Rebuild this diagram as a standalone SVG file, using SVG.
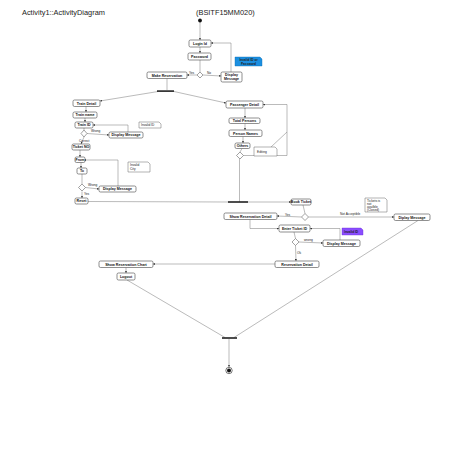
<svg xmlns="http://www.w3.org/2000/svg" width="453" height="453" viewBox="0 0 453 453">
<defs>
<marker id="ah" viewBox="0 0 6 6" refX="6" refY="3" markerWidth="4" markerHeight="4" orient="auto"><path d="M0,0 L6,3 L0,6 Z" fill="#333"/></marker>
<style>
.box{fill:#fff;stroke:#444;stroke-width:0.6}
.t{font-family:"Liberation Sans",Arial,sans-serif;font-size:3.6px;font-weight:bold;text-anchor:middle;fill:#111}
.lbl{font-family:"Liberation Sans",Arial,sans-serif;font-size:3.2px;fill:#222}
.nt{font-family:"Liberation Sans",Arial,sans-serif;font-size:3.2px;fill:#222}
.c{stroke:#777;stroke-width:0.5;fill:none}
.ca{stroke:#777;stroke-width:0.5;fill:none;marker-end:url(#ah)}
.note{fill:#fff;stroke:#666;stroke-width:0.5}
.bar{fill:#222}
.dia{fill:#fff;stroke:#444;stroke-width:0.5}
</style>
</defs>
<rect width="453" height="453" fill="#fff"/>
<text x="22" y="15" font-family="Liberation Sans,Arial,sans-serif" font-size="7.4" fill="#222">Activity1::ActivityDiagram</text>
<text x="196" y="15" font-family="Liberation Sans,Arial,sans-serif" font-size="7.4" fill="#222">(BSITF15MM020)</text>

<g id="connectors">
<line class="ca" x1="200" y1="22" x2="200" y2="40"/>
<line class="ca" x1="200" y1="47" x2="200" y2="53"/>
<line class="c" x1="200" y1="60" x2="200" y2="72"/>
<line class="ca" x1="197" y1="75" x2="187" y2="75"/>
<line class="ca" x1="203" y1="75" x2="221" y2="76"/>
<polyline class="ca" points="231,72 231,43 211,43"/>
<line class="c" x1="167" y1="78.5" x2="167" y2="90"/>
<line class="ca" x1="158" y1="91.5" x2="100" y2="101"/>
<line class="ca" x1="174" y1="91.5" x2="226" y2="103"/>
<line class="ca" x1="86" y1="106" x2="86" y2="112"/>
<line class="ca" x1="85" y1="118" x2="85" y2="122"/>
<line class="c" x1="84" y1="128" x2="84" y2="130"/>
<line class="ca" x1="87" y1="133.5" x2="109" y2="135"/>
<polyline class="ca" points="128,132 128,125 93,125"/>
<line class="ca" x1="84" y1="137" x2="81" y2="144"/>
<line class="ca" x1="80" y1="150" x2="80" y2="157"/>
<line class="ca" x1="81" y1="162.5" x2="81" y2="168"/>
<line class="c" x1="82" y1="174" x2="82" y2="184"/>
<line class="ca" x1="85.5" y1="187.5" x2="99" y2="189"/>
<polyline class="ca" points="118,186 118,160 84,160"/>
<line class="ca" x1="82" y1="191.5" x2="82" y2="198"/>
<line class="c" x1="88" y1="201.5" x2="228" y2="202"/>
<line class="ca" x1="245" y1="108" x2="245" y2="118"/>
<line class="ca" x1="245" y1="123.5" x2="245" y2="130"/>
<line class="ca" x1="243" y1="136.5" x2="243" y2="143"/>
<line class="c" x1="242" y1="148.5" x2="240" y2="152"/>
<polyline class="ca" points="243.5,155.5 287,155.5 287,104.5 263,104.5"/>
<line class="c" x1="271" y1="147" x2="287" y2="132"/>
<line class="c" x1="239.5" y1="159" x2="239.5" y2="202"/>
<line class="ca" x1="248" y1="202" x2="291" y2="202"/>
<line class="c" x1="303" y1="205" x2="305" y2="213.5"/>
<line class="ca" x1="301.5" y1="217" x2="277" y2="216"/>
<line class="ca" x1="308.5" y1="217" x2="394" y2="217"/>
<polyline class="ca" points="250,219.5 250,228.5 279,228.5"/>
<polyline class="ca" points="340,240 340,228.5 310,228.5"/>
<line class="c" x1="294" y1="232" x2="295.5" y2="238.5"/>
<line class="ca" x1="299" y1="242" x2="323" y2="243"/>
<line class="ca" x1="295.5" y1="245.5" x2="296" y2="261"/>
<line class="ca" x1="275" y1="264" x2="153" y2="264"/>
<line class="ca" x1="126" y1="267.5" x2="126" y2="273"/>
<line class="c" x1="127" y1="280" x2="225" y2="337.5"/>
<line class="c" x1="418" y1="220.5" x2="234" y2="337.5"/>
<line class="ca" x1="229" y1="339" x2="229" y2="367"/>
</g>

<g id="start"><circle cx="200" cy="20.5" r="1.9" fill="#111"/></g>
<g id="login"><rect class="box" x="189" y="40" width="22" height="7" rx="1.5"/><text class="t" x="200" y="44.8">Login Id</text></g>
<g id="password"><rect class="box" x="188" y="53" width="23" height="7" rx="1.5"/><text class="t" x="199.5" y="57.8">Password</text></g>
<g id="d1"><path class="dia" d="M200,72 L203,75 L200,78 L197,75 Z"/><text class="lbl" x="189" y="73.5">Yes</text><text class="lbl" x="207" y="73.5">No</text></g>
<g id="invalid1"><path d="M235,57 H260 L262,59 V66 H235 Z" fill="#1b8fe0" stroke="#0d6bb0" stroke-width="0.4"/><text class="nt" x="248.5" y="61" text-anchor="middle" font-weight="bold" fill="#fff">Invalid ID or</text><text class="nt" x="248.5" y="64.6" text-anchor="middle" font-weight="bold" fill="#fff">Password</text></g>
<g id="dispmsg1"><rect class="box" x="221" y="72" width="21" height="10" rx="1.5"/><text class="t" x="231.5" y="76">Display</text><text class="t" x="231.5" y="80">Message</text></g>
<g id="makeres"><rect class="box" x="147" y="72" width="40" height="6.5" rx="1.5"/><text class="t" x="167" y="76.6">Make Reservation</text></g>
<g id="fork1"><rect class="bar" x="157" y="90.3" width="17" height="1.6"/></g>
<g id="traindetail"><rect class="box" x="73" y="100" width="27" height="6.5" rx="1.5"/><text class="t" x="86.5" y="104.6">Train Detail</text></g>
<g id="trainname"><rect class="box" x="73" y="112" width="24" height="6" rx="1.5"/><text class="t" x="85" y="116.3">Train name</text></g>
<g id="trainid"><rect class="box" x="75" y="122" width="18" height="6" rx="1.5"/><text class="t" x="84" y="126.3">Train ID</text></g>
<g id="invalidid"><path class="note" d="M139,122 H159 L161,124 V128 H139 Z"/><text class="nt" x="141" y="126.3">Invalid ID</text></g>
<g id="d2"><path class="dia" d="M84,130 L87,133.5 L84,137 L81,133.5 Z"/><text class="lbl" x="91" y="132.3">Wrong</text><text class="lbl" x="79" y="142.3">Correct</text></g>
<g id="dispmsg2"><rect class="box" x="109" y="132" width="34" height="6" rx="1.5"/><text class="t" x="126" y="136.3">Display Message</text></g>
<g id="ticketno"><rect class="box" x="72" y="144" width="18" height="6" rx="1.5"/><text class="t" x="81" y="148.3">Ticket NO</text></g>
<g id="from"><rect class="box" x="75" y="157" width="10" height="5.5" rx="1.5"/><text class="t" x="80" y="161">From</text></g>
<g id="to"><rect class="box" x="77" y="168" width="10" height="6" rx="1.5"/><text class="t" x="82" y="172.3">To</text></g>
<g id="invalidcity"><path class="note" d="M128,162 H148 L150,164 V172 H128 Z"/><text class="nt" x="130" y="166">Invalid</text><text class="nt" x="130" y="170">City</text></g>
<g id="d3"><path class="dia" d="M82,184 L85.5,187.5 L82,191 L78.5,187.5 Z"/><text class="lbl" x="88" y="186.3">Wrong</text><text class="lbl" x="84" y="194.5">Yes</text></g>
<g id="dispmsg3"><rect class="box" x="99" y="186" width="37" height="6" rx="1.5"/><text class="t" x="117.5" y="190.3">Display Message</text></g>
<g id="reset"><rect class="box" x="75" y="198" width="13" height="6" rx="1.5"/><text class="t" x="81.5" y="202.3">Reset</text></g>
<g id="passdetail"><rect class="box" x="226" y="101" width="37" height="7" rx="1.5"/><text class="t" x="244.5" y="105.8">Passenger Detail</text></g>
<g id="totalpersons"><rect class="box" x="229" y="118" width="31" height="5.5" rx="1.5"/><text class="t" x="244.5" y="122">Total Persons</text></g>
<g id="personnames"><rect class="box" x="229" y="130" width="33" height="6.5" rx="1.5"/><text class="t" x="245.5" y="134.6">Person Names</text></g>
<g id="others"><rect class="box" x="235" y="143" width="15" height="5.5" rx="1.5"/><text class="t" x="242.5" y="147">Others</text></g>
<g id="d4"><path class="dia" d="M240,152 L243.5,155.5 L240,159 L236.5,155.5 Z"/></g>
<g id="editing"><path class="note" d="M254,147 H275 L277,149 V156 H254 Z"/><text class="nt" x="257" y="152.5">Editing</text></g>
<g id="join1"><rect class="bar" x="228" y="201.2" width="20" height="1.6"/></g>
<g id="bookticket"><rect class="box" x="291" y="199" width="20" height="6" rx="1.5"/><text class="t" x="301" y="203.3">Book Ticket</text></g>
<g id="d5"><path class="dia" d="M305,213.5 L308.5,217 L305,220.5 L301.5,217 Z"/><text class="lbl" x="285" y="215.5">Yes</text><text class="lbl" x="340" y="215">Not Acceptible</text></g>
<g id="ticketsnote"><path class="note" d="M365,198 H385 L387,200 V212 H365 Z"/><text class="nt" x="367" y="201.5">Tickets is</text><text class="nt" x="367" y="204.8">not</text><text class="nt" x="367" y="208">availble</text><text class="nt" x="367" y="211.2">(Closed)</text></g>
<g id="diplaymsg"><rect class="box" x="394" y="214" width="36" height="6.5" rx="1.5"/><text class="t" x="412" y="218.6">Diplay Message</text></g>
<g id="showresdetail"><rect class="box" x="224" y="213" width="53" height="6.5" rx="1.5"/><text class="t" x="250.5" y="217.6">Show Reservation Detail</text></g>
<g id="enterticket"><rect class="box" x="279" y="225" width="31" height="7" rx="1.5"/><text class="t" x="294.5" y="229.8">Enter Ticket ID</text></g>
<g id="invalidid2"><path d="M342,228 H361 L363,230 V235 H342 Z" fill="#8b4dff" stroke="#6a2fd6" stroke-width="0.4"/><text class="nt" x="344" y="232.6" fill="#fff" font-weight="bold">Invalid ID</text></g>
<g id="d6"><path class="dia" d="M295.5,238.5 L299,242 L295.5,245.5 L292,242 Z"/><text class="lbl" x="304" y="241">wrong</text><text class="lbl" x="297" y="254">Ok</text></g>
<g id="dispmsg4"><rect class="box" x="323" y="240" width="37" height="6.5" rx="1.5"/><text class="t" x="341.5" y="244.6">Display Message</text></g>
<g id="resdetail"><rect class="box" x="275" y="261" width="44" height="6.5" rx="1.5"/><text class="t" x="297" y="265.6">Reservation Detail</text></g>
<g id="showchart"><rect class="box" x="99" y="261" width="54" height="6.5" rx="1.5"/><text class="t" x="126" y="265.6">Show Reservation Chart</text></g>
<g id="logout"><rect class="box" x="117" y="273" width="18" height="7" rx="1.5"/><text class="t" x="126" y="277.8">Logout</text></g>
<g id="join2"><rect class="bar" x="222" y="337.2" width="15" height="1.6"/></g>
<g id="final"><circle cx="229" cy="370.5" r="3.2" fill="#fff" stroke="#222" stroke-width="0.6"/><circle cx="229" cy="370.5" r="2" fill="#111"/></g>
</svg>
